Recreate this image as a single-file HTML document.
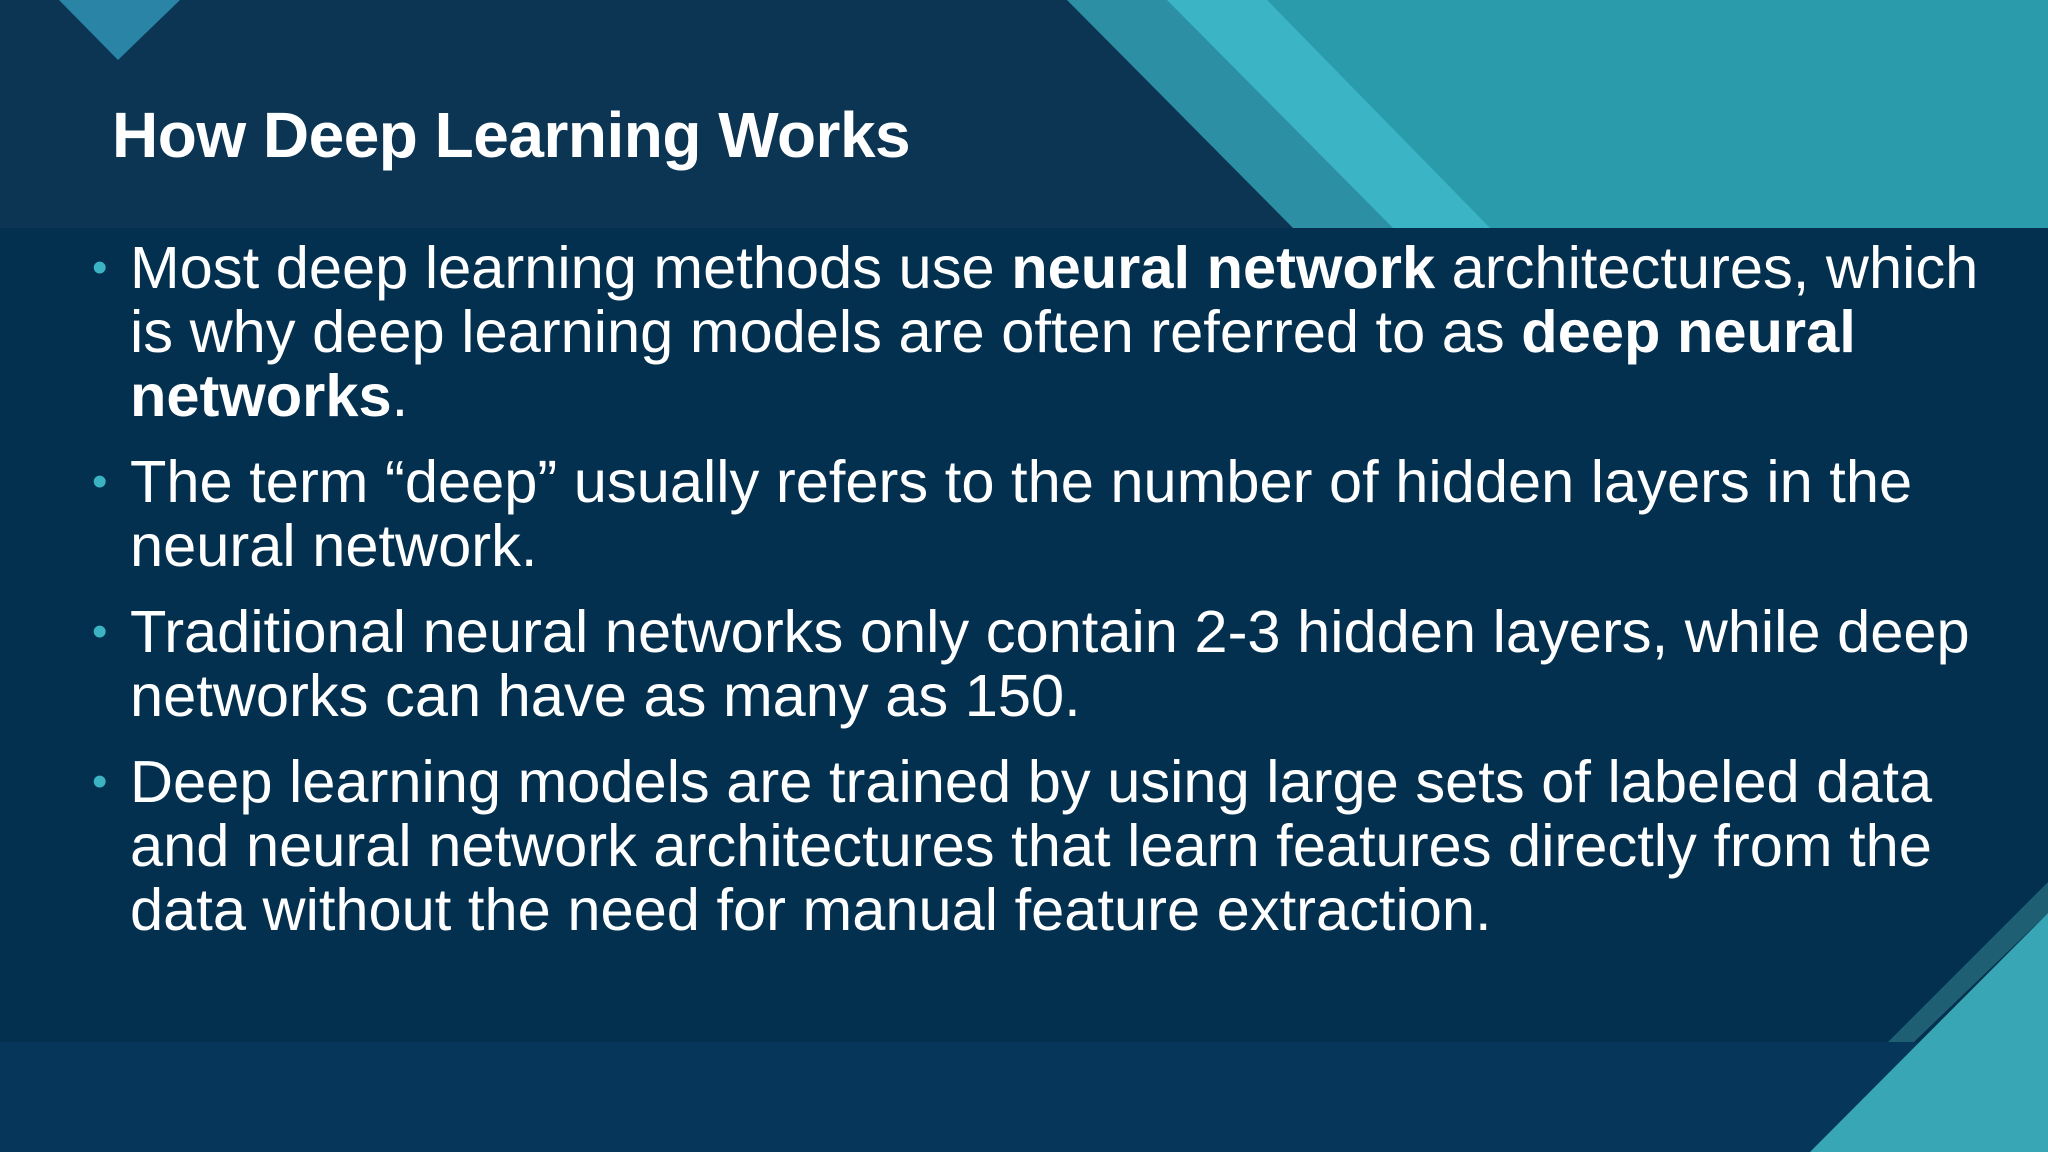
<!DOCTYPE html>
<html><head><meta charset="utf-8"><style>
html,body{margin:0;padding:0}
body{width:2048px;height:1152px;position:relative;overflow:hidden;background:#04304f;font-family:"Liberation Sans",Arial,sans-serif;color:#fff}
svg{position:absolute;left:0;top:0}
.t{position:absolute;left:112px;top:98px;font-size:64px;font-weight:bold;white-space:nowrap;letter-spacing:-0.5px}
.b{position:absolute;left:130px;font-size:59.6px;line-height:64px;white-space:nowrap}
.b:before{content:"•";position:absolute;left:-38px;color:#3bb3c3;font-size:44px}
</style></head><body>
<svg width="2048" height="1152">
<rect x="0" y="0" width="2048" height="228" fill="#0b3553"/>
<rect x="0" y="1042" width="2048" height="110" fill="#06365a"/>
<polygon points="1067,0 2048,0 2048,228 1293,228" fill="#2c8fa3"/>
<polygon points="1167,0 2048,0 2048,228 1393,228" fill="#3bb5c6"/>
<polygon points="1267,0 2048,0 2048,228 1490,228" fill="#2a9bab"/>
<polygon points="59,0 180,0 118,60" fill="#2a84a5"/>
<polygon points="1888,1042 2048,882 2048,913 1914,1042" fill="#1f5f73"/>
<polygon points="1810,1152 2048,913 2048,1152" fill="#38a6b4"/>
</svg>
<div class="t">How Deep Learning Works</div>
<div class="b" style="top:236px">Most deep learning methods use <b>neural network</b> architectures, which<br>is why deep learning models are often referred to as <b>deep neural</b><br><b>networks</b>.</div>
<div class="b" style="top:450px">The term “deep” usually refers to the number of hidden layers in the<br>neural network.</div>
<div class="b" style="top:600px">Traditional neural networks only contain 2-3 hidden layers, while deep<br>networks can have as many as 150.</div>
<div class="b" style="top:750px">Deep learning models are trained by using large sets of labeled data<br>and neural network architectures that learn features directly from the<br>data without the need for manual feature extraction.</div>
</body></html>
